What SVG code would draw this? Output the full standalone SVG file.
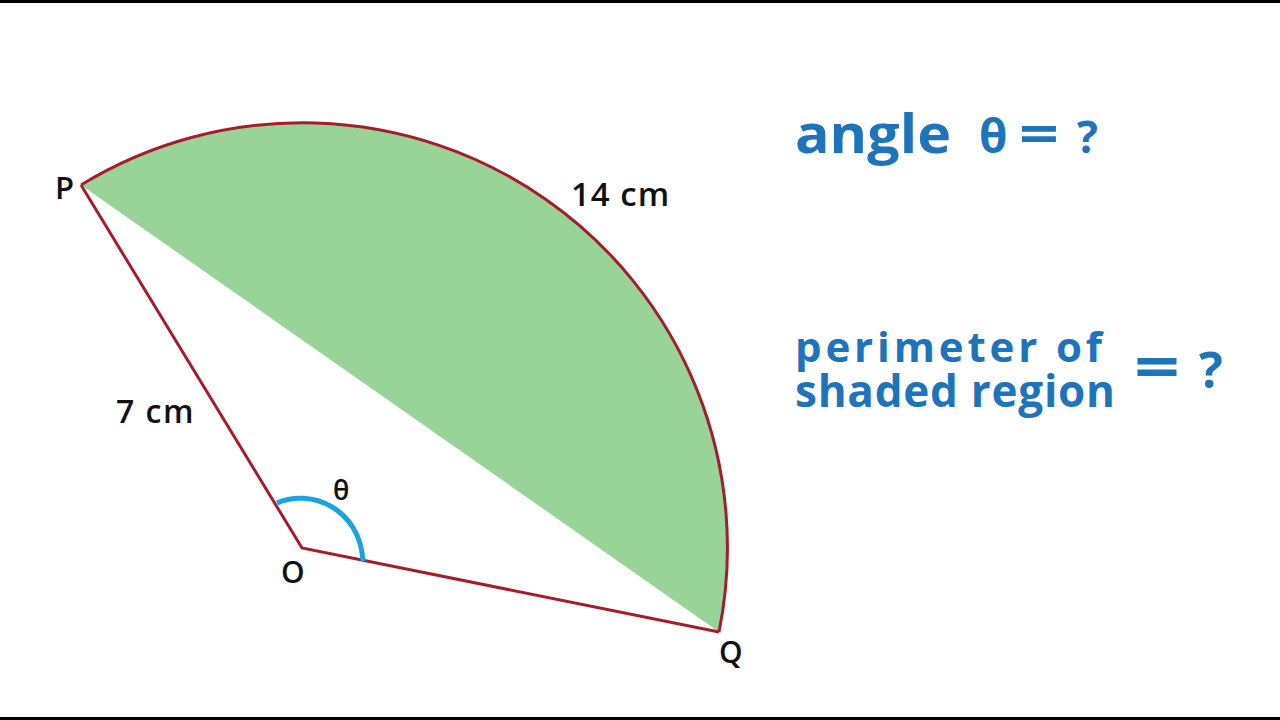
<svg xmlns="http://www.w3.org/2000/svg" width="1280" height="720" viewBox="0 0 1280 720">
<style>
.lbl{font-family:"Open Sans","Liberation Sans",sans-serif;font-weight:600;fill:#111;}
.q{font-family:"Open Sans","Liberation Sans",sans-serif;font-weight:700;fill:#1d74bb;}
.edge{fill:none;stroke:#a51d2b;stroke-width:3;stroke-linejoin:miter;}
</style>
<rect x="0" y="0" width="1280" height="720" fill="#fff"/>
<rect x="0" y="0" width="1280" height="3" fill="#000"/>
<rect x="0" y="717" width="1280" height="3" fill="#000"/>
<g id="shaded-region">
<path d="M81,185 A425,425 0 0 1 719,632 Z" fill="#98d497"/>
</g>
<g id="connectors">
<path class="edge" d="M81,185 A425,425 0 0 1 719,632"/>
<path class="edge" d="M81,185 L302,548 L719,632"/>
<path d="M277,503 C310,488 360,508 363,561" fill="none" stroke="#1aa3dc" stroke-width="5"/>
</g>
<g id="node-P"><text class="lbl" x="55" y="199" font-size="31">P</text></g>
<g id="node-O"><text class="lbl" x="281" y="583" font-size="30">O</text></g>
<g id="node-Q"><text class="lbl" x="719" y="663" font-size="30">Q</text></g>
<g id="label-theta"><text class="lbl" x="333" y="500" font-size="27">θ</text></g>
<g id="label-14cm"><text class="lbl" x="571" y="206" font-size="33" letter-spacing="1">14 cm</text></g>
<g id="label-7cm"><text class="lbl" x="116" y="423" font-size="32" letter-spacing="1.5">7 cm</text></g>
<g id="question-angle">
<text class="q" x="795" y="153" font-size="53" textLength="156" lengthAdjust="spacingAndGlyphs">angle</text>
<text class="q" x="979" y="153" font-size="46">θ</text>
<text class="q" x="1019" y="153" font-size="54" textLength="40" lengthAdjust="spacingAndGlyphs">=</text>
<text class="q" x="1077" y="153" font-size="44">?</text>
</g>
<g id="question-perimeter">
<text class="q" x="795" y="362" font-size="42" textLength="307" lengthAdjust="spacing">perimeter of</text>
<text class="q" x="795" y="407" font-size="44" textLength="320" lengthAdjust="spacing">shaded region</text>
<text class="q" x="1134" y="388" font-size="60" textLength="46" lengthAdjust="spacingAndGlyphs">=</text>
<text class="q" x="1199" y="388" font-size="50">?</text>
</g>
</svg>
